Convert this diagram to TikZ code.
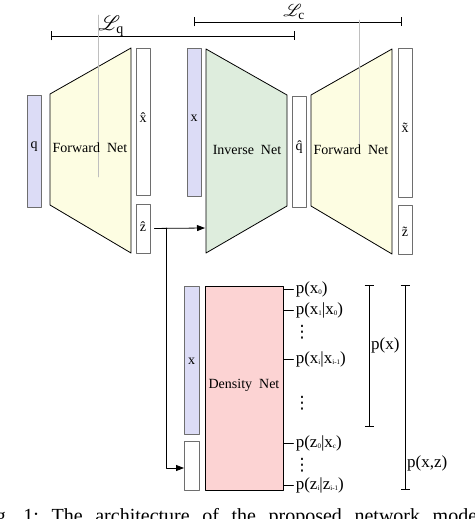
\documentclass[tikz,border=0pt]{standalone}
\usepackage{fontspec}
\setmainfont{Liberation Serif}
\newfontfamily\dotsfont{DejaVu Sans}
\usepackage{amsmath,amssymb,mathrsfs}
\usetikzlibrary{arrows}
\usetikzlibrary{arrows.meta,calc}
\definecolor{lav}{HTML}{DCDCF6}
\definecolor{fwd}{HTML}{FDFDE2}
\definecolor{inv}{HTML}{DEEDDD}
\definecolor{dens}{HTML}{FCD3D3}
\definecolor{edge}{HTML}{6E6E6E}
\newcommand{\subi}[1]{\raisebox{-0.2ex}{\fontsize{7}{7}\selectfont #1}}

\begin{document}
\begin{tikzpicture}[line cap=round,line join=round,>={Triangle[length=8pt,width=6pt]},x=1pt,y=-1pt,
    bar/.style={draw=edge,line width=0.8pt,inner sep=0pt,minimum width=14pt},
    net/.style={draw=black,line width=0.8pt},
    lbl/.style={font=\fontsize{14}{14}\selectfont,inner sep=0pt},
    plbl/.style={font=\fontsize{17}{17}\selectfont,anchor=west,inner sep=2pt},
    vdot/.style={font=\dotsfont\fontsize{17}{17}\selectfont,inner sep=0pt},
    span/.style={line width=0.8pt,{Bar[width=9pt]}-{Bar[width=9pt]}}]
    \clip (0,0) rectangle (474,519);
    \useasboundingbox (0,0) rectangle (474,519);
    % losses
    \coordinate (lq0) at (51,36);
    \coordinate (lq1) at (295,36);
    \coordinate (lc0) at (194,22);
    \coordinate (lc1) at (402,22);
    \draw [span] (lq0) -- (lq1);
    \draw [span] (lc0) -- (lc1);
    \node[font=\fontsize{20}{20}\selectfont,inner sep=0pt] (Lq) at (111,26) {$\mathscr{L}_{\mathrm{q}}$};
    \node[font=\fontsize{19}{19}\selectfont,inner sep=0pt] (Lc) at (294,12) {$\mathscr{L}_{\mathrm{c}}$};
    % nets
    \draw [net,fill=fwd] (50,94) -- (131,48) -- (131,253) -- (50,205) -- cycle;
    \draw [net,fill=inv] (206,49) -- (287,95) -- (287,206) -- (206,253) -- cycle;
    \draw [net,fill=fwd] (311,95) -- (392,49) -- (392,254) -- (311,206) -- cycle;
    \draw [gray!50,line width=0.5pt] (98,15) -- (98,177);
    \draw [gray!50,line width=0.5pt] (359,20) -- (359,145);
    \node[lbl] (fw1) at (90,148) {Forward\ \ Net};
    \node[lbl] (inv) at (247,150) {Inverse\ \ Net};
    \node[lbl] (fw2) at (351,150) {Forward\ \ Net};
    % vectors
    \node[bar,fill=lav,minimum height=112pt] (q) at (34,151) {};
    \node[bar,minimum height=147pt] (xh) at (143,121.5) {};
    \node[bar,minimum height=49pt] (zh) at (143,228.5) {};
    \node[bar,fill=lav,minimum height=148pt] (xin) at (194,122) {};
    \node[bar,minimum height=111pt] (qh) at (299,151.5) {};
    \node[bar,minimum height=149pt] (xt) at (405,122.5) {};
    \node[bar,minimum height=49pt] (zt) at (405,229.5) {};
    \node[lbl] (tq) at (34,147) {q};
    \node[lbl] (txh) at (143,118) {\^{x}};
    \node[lbl] (tzh) at (143,227) {\^{z}};
    \node[lbl] (txin) at (194,118) {x};
    \node[lbl] (tqh) at (299,147) {\^{q}};
    \node[lbl] (txt) at (405,128) {\~{x}};
    \node[lbl] (tzt) at (405,232) {\~{z}};
    % density part
    \node[bar,fill=lav,minimum width=15pt,minimum height=148pt] (xd) at (191.5,360) {};
    \node[bar,minimum width=15pt,minimum height=49pt] (zin) at (191.5,465.5) {};
    \node[net,fill=dens,inner sep=0pt,minimum width=78pt,minimum height=204pt] (dn) at (244,388) {};
    \node[lbl] (txd) at (191.5,361) {x};
    \node[lbl] (tdn) at (244,385) {Density\ \ Net};
    % arrows
    \coordinate (invw) at (205,228);
    \coordinate (br) at (166,228);
    \coordinate (zinw) at (184,468);
    \draw [->,line width=0.8pt,shorten <=4pt] (zh.east) -- (invw);
    \draw [->,line width=0.8pt] (br) |- (zinw);
    % outputs
    \foreach \yy/\nm/\txt in {289/o0/{p(x\subi{0})},310/o1/{p(x\subi{1}|x\subi{0})},359/o2/{p(x\subi{i}|x\subi{i-1})},443/o3/{p(z\subi{0}|x\subi{c})},485/o4/{p(z\subi{i}|z\subi{i-1})}}
        \draw [line width=0.8pt] (dn.east |- 0,\yy) -- ++(10,0) node[plbl] (\nm) {\txt};
    \node[vdot] (d1) at (302,332) {⋮};
    \node[vdot] (d2) at (302,403) {⋮};
    \node[vdot] (d3) at (302,465) {⋮};
    % likelihood spans
    \coordinate (px0) at (369,285);
    \coordinate (px1) at (369,427);
    \coordinate (pxz0) at (405,285);
    \coordinate (pxz1) at (405,490);
    \draw [span] (px0) -- (px1);
    \draw [span] (pxz0) -- (pxz1);
    \node[plbl,inner sep=0pt] (tpx) at (371,345) {p(x)};
    \node[plbl,inner sep=0pt] (tpxz) at (407,463) {p(x,z)};
    % caption
    \node[anchor=base west,inner sep=0pt,font=\fontsize{20}{20}\selectfont] (cap) at (-21,522)
        {\frenchspacing\spaceskip=12.6pt Fig. 1: The architecture of the proposed network model};
\end{tikzpicture}
\end{document}
